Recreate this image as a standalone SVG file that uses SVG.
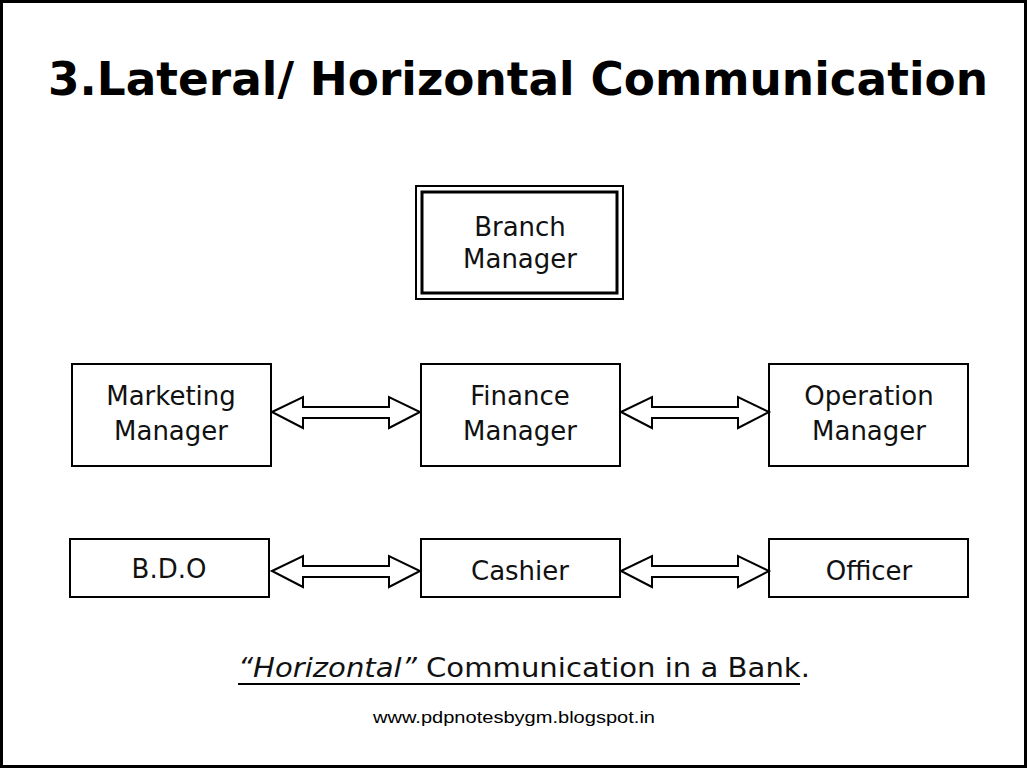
<svg xmlns="http://www.w3.org/2000/svg" width="1027" height="768" viewBox="0 0 1027 768">
<style>
.b{fill:#fff;stroke:#000;stroke-width:2}
.t{font-family:"DejaVu Sans",sans-serif;font-size:26px;text-anchor:middle;fill:#111}
.a{fill:#fff;stroke:#000;stroke-width:2;stroke-linejoin:miter}
</style>
<defs>
<path id="arr" class="a" d="M0,0 L31,-15 L31,-5 L117,-5 L117,-15 L148,0 L117,16 L117,6 L31,6 L31,16 Z"/>
</defs>
<rect x="0" y="0" width="1027" height="768" fill="#fff"/>
<rect x="1.5" y="1.5" width="1024" height="765" fill="none" stroke="#000" stroke-width="3"/>
<text x="518" y="95" font-family="DejaVu Sans,sans-serif" font-weight="bold" font-size="46" text-anchor="middle" textLength="940" lengthAdjust="spacingAndGlyphs">3.Lateral/ Horizontal  Communication</text>
<g id="branch">
<rect x="416" y="186" width="207" height="113" fill="#fff" stroke="#000" stroke-width="2"/>
<rect x="422" y="192" width="195" height="101" fill="#fff" stroke="#000" stroke-width="3"/>
<text class="t" x="520" y="236">Branch</text><text class="t" x="520" y="268">Manager</text>
</g>
<g id="marketing"><rect class="b" x="72" y="364" width="199" height="102"/><text class="t" x="171" y="405">Marketing</text><text class="t" x="171" y="440">Manager</text></g>
<g id="finance"><rect class="b" x="421" y="364" width="199" height="102"/><text class="t" x="520" y="405">Finance</text><text class="t" x="520" y="440">Manager</text></g>
<g id="operation"><rect class="b" x="769" y="364" width="199" height="102"/><text class="t" x="869" y="405">Operation</text><text class="t" x="869" y="440">Manager</text></g>
<g id="bdo"><rect class="b" x="70" y="539" width="199" height="58"/><text class="t" x="169" y="578">B.D.O</text></g>
<g id="cashier"><rect class="b" x="421" y="539" width="199" height="58"/><text class="t" x="520" y="580">Cashier</text></g>
<g id="officer"><rect class="b" x="769" y="539" width="199" height="58"/><text class="t" x="869" y="580">Officer</text></g>
<g id="connectors">
<use href="#arr" transform="translate(272,412)"/>
<use href="#arr" transform="translate(621,412)"/>
<use href="#arr" transform="translate(272,571)"/>
<use href="#arr" transform="translate(621,571)"/>
</g>
<text x="238" y="677" font-family="DejaVu Sans,sans-serif" font-size="26" fill="#111" textLength="572" lengthAdjust="spacingAndGlyphs"><tspan font-style="italic">“Horizontal”</tspan> Communication in a Bank.</text>
<line x1="238" y1="684" x2="800" y2="684" stroke="#000" stroke-width="2"/>
<text x="514" y="723" font-family="Liberation Sans,Arial,sans-serif" font-size="17" text-anchor="middle" textLength="282" lengthAdjust="spacingAndGlyphs">www.pdpnotesbygm.blogspot.in</text>
</svg>
